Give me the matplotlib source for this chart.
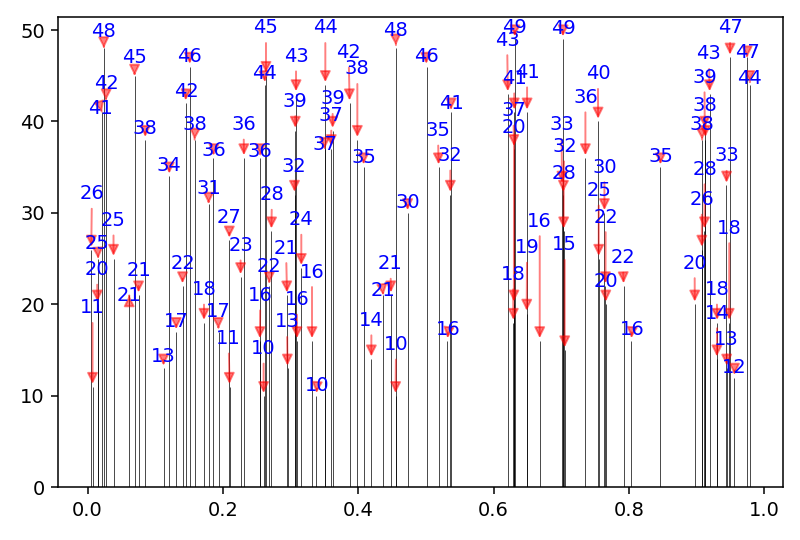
import matplotlib
matplotlib.use('Agg')
import matplotlib.pyplot as plt

# line positions and heights (heights are also the label texts)
x = [0.0242, 0.0695, 0.1514, 0.0272, 0.0213, 0.1449, 0.0853, 0.1582, 0.2312, 0.1858,
     0.1208, 0.1789, 0.0055, 0.0384, 0.2095, 0.0158, 0.2262, 0.1404, 0.0148, 0.0754,
     0.1721, 0.0616, 0.0074, 0.1936, 0.1311, 0.2099, 0.1123,
     0.2637, 0.3514, 0.4559, 0.3081, 0.3873, 0.5011, 0.2627, 0.3987, 0.3070, 0.3622,
     0.3602, 0.3503, 0.2553, 0.4080, 0.3060, 0.2716, 0.4730, 0.3159, 0.2948, 0.2686,
     0.4485, 0.3317, 0.4371, 0.2546, 0.3095, 0.4194, 0.2955, 0.2602, 0.4551, 0.3381,
     0.5189, 0.5313, 0.5372, 0.5361, 0.6211, 0.6312, 0.6308, 0.6495, 0.6303, 0.6300,
     0.6293, 0.6489, 0.6682, 0.7024, 0.7013, 0.7027, 0.7036, 0.7051, 0.7357, 0.7545,
     0.7638, 0.7554, 0.7653, 0.7660, 0.7923, 0.8033,
     0.8466, 0.9493, 0.9194, 0.9747, 0.9121, 0.9786, 0.9131, 0.9082, 0.9441, 0.9116,
     0.9078, 0.9481, 0.8973, 0.9304, 0.9299, 0.9447, 0.9560]
heights = [48, 45, 46, 42, 41, 42, 38, 38, 36, 36,
           34, 31, 26, 25, 27, 25, 23, 22, 20, 21,
           18, 21, 11, 17, 17, 11, 13,
           45, 44, 48, 43, 42, 46, 44, 38, 39, 39,
           37, 37, 36, 35, 32, 28, 30, 24, 21, 22,
           21, 16, 21, 16, 16, 14, 13, 10, 10, 10,
           35, 16, 41, 32, 43, 49, 41, 41, 37, 20,
           18, 19, 16, 49, 33, 32, 28, 15, 36, 40,
           30, 25, 22, 20, 22, 16,
           35, 47, 43, 47, 39, 44, 38, 38, 33, 28,
           26, 18, 20, 18, 14, 13, 12]

# where the labels ended up after being pushed apart
label_x = [0.0237, 0.0695, 0.1508, 0.0276, 0.0198, 0.1455, 0.0853, 0.1592, 0.2306, 0.1863,
           0.1208, 0.1789, 0.0065, 0.0384, 0.2095, 0.0148, 0.2262, 0.1404, 0.0139, 0.0754,
           0.1721, 0.0616, 0.0074, 0.1928, 0.1311, 0.2084, 0.1123,
           0.2637, 0.3514, 0.4549, 0.3081, 0.3858, 0.5002, 0.2612, 0.3987, 0.3070, 0.3622,
           0.3602, 0.3503, 0.2553, 0.4080, 0.3056, 0.2726, 0.4730, 0.3159, 0.2933, 0.2686,
           0.4475, 0.3317, 0.4361, 0.2553, 0.3095, 0.4194, 0.2948, 0.2602, 0.4559, 0.3391,
           0.5177, 0.5336, 0.5372, 0.5361, 0.6200, 0.6315, 0.6303, 0.6495, 0.6293, 0.6303,
           0.6288, 0.6495, 0.6682, 0.7027, 0.7002, 0.7047, 0.7036, 0.7051, 0.7357, 0.7542,
           0.7638, 0.7554, 0.7657, 0.7657, 0.7908, 0.8047,
           0.8466, 0.9496, 0.9180, 0.9747, 0.9116, 0.9786, 0.9126, 0.9076, 0.9446, 0.9119,
           0.9076, 0.9483, 0.8971, 0.9298, 0.9304, 0.9441, 0.9560]
label_y = [49.85, 46.94, 47.12, 44.10, 41.38, 43.26, 39.19, 39.66, 39.66, 36.82,
           35.19, 32.64, 32.10, 29.18, 29.48, 26.64, 26.45, 24.45, 23.80, 23.65,
           21.62, 20.92, 19.61, 19.17, 18.08, 16.27, 14.26,
           50.22, 50.22, 50.00, 47.12, 47.55, 47.12, 45.20, 45.74, 42.21, 42.47,
           40.64, 37.48, 36.75, 36.09, 35.11, 31.99, 31.18, 29.26, 26.16, 24.16,
           24.45, 23.54, 21.54, 20.99, 20.52, 18.26, 18.08, 15.17, 15.61, 11.09,
           39.01, 17.25, 41.99, 36.28, 48.89, 50.22, 44.71, 45.37, 41.19, 39.37,
           23.29, 26.20, 29.10, 50.20, 39.69, 37.28, 34.28, 26.51, 42.64, 45.20,
           35.00, 32.46, 29.54, 22.45, 25.11, 17.25,
           36.17, 50.22, 47.38, 47.52, 44.83, 44.65, 41.74, 39.66, 36.24, 34.77,
           31.45, 28.33, 24.51, 21.62, 19.03, 16.21, 13.08]

plt.rcParams['font.size'] = 14

fig = plt.figure(figsize=(8, 5.4), dpi=100)
ax = fig.add_axes([0.0729, 0.0976, 0.9055, 0.8714])

ax.vlines(x, 0, heights, color='k', lw=0.5)

for xi, hi, tx, ty in zip(x, heights, label_x, label_y):
    ax.annotate(str(hi), xy=(xi, hi), xytext=(tx, ty), color='b',
                ha='center', va='center',
                arrowprops=dict(arrowstyle='-|>', color='r', alpha=0.5, lw=1.4,
                                mutation_scale=16))

pad = 0.05 * (max(x) - min(x))
ax.set_xlim(min(x) - pad, max(x) + pad)
ax.set_ylim(0, max(heights) * 1.05)

for s in ax.spines.values():
    s.set_linewidth(1.1)
ax.tick_params(width=1.1, length=4.8, pad=4.8, labelsize=14)

fig.savefig('out.png', dpi=100)
